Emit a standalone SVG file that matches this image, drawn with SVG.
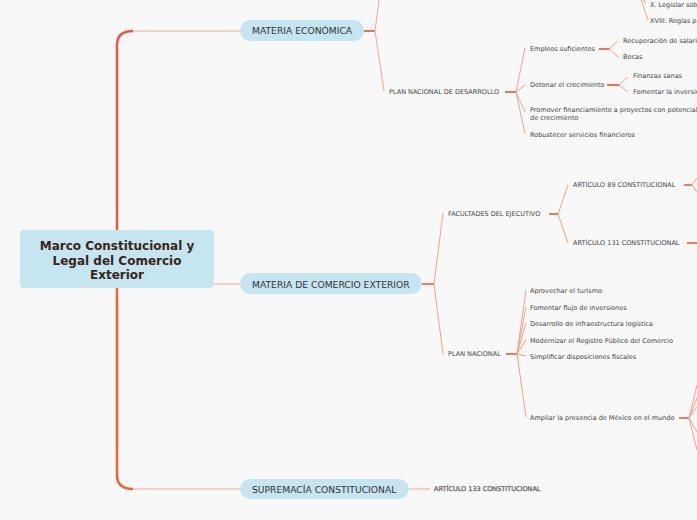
<svg xmlns="http://www.w3.org/2000/svg" width="697" height="520" viewBox="0 0 697 520">
<style>
.bg{fill:#f8f8f8}
.root{fill:#c5e5f0}
.pill{fill:#c5e5f0}
.rt{font-family:"DejaVu Sans",Verdana,sans-serif;font-weight:bold;font-size:12px;fill:#3a2417;text-anchor:middle}
.l1{font-family:"DejaVu Sans",Verdana,sans-serif;font-size:9.2px;fill:#333}
.t{font-family:"DejaVu Sans",Verdana,sans-serif;font-size:6.5px;fill:#444}
.tb{font-family:"DejaVu Sans",Verdana,sans-serif;font-size:6.5px;fill:#555;stroke:#666;stroke-width:0.25}
.trA{fill:none;stroke:#eb5547;stroke-width:2.5}
.trB{fill:none;stroke:#f0632f;stroke-width:2.5}
.l1c{fill:none;stroke:#f9bfb0;stroke-width:1.5}
.br{fill:none;stroke:#f6a397;stroke-width:1}
.bo{fill:none;stroke:#f5a183;stroke-width:1}
.hz{fill:none;stroke:#f0705a;stroke-width:2}
.ho{fill:none;stroke:#f47a55;stroke-width:2}
</style>
<rect class="bg" x="0" y="0" width="697" height="520"/>
<g id="connectors">
<path class="trA" d="M117,230 V45 Q117,31 133,31"/>
<path class="trB" d="M117,288 V475 Q117,489 133,489"/>
<path class="l1c" d="M133,31 H240"/>
<path class="l1c" d="M214,284 H240"/>
<path class="l1c" d="M133,489 H240"/>
<path class="l1c" d="M409,489 H430"/>
<path class="hz" d="M364,31 H375"/>
<path class="br" d="M375,31 L379,0 M375,31 L384,91"/>
<path class="br" d="M637,-12 L646,4 M637,-12 L648,20"/>
<path class="hz" d="M505,92 H516"/>
<path class="br" d="M516,92 L525,48 M516,92 L525,85 M516,92 L525,112 M516,92 L525,134"/>
<path class="hz" d="M599,49 H609"/>
<path class="br" d="M609,49 L618,41 M609,49 L618,57"/>
<path class="hz" d="M607,85 H619"/>
<path class="br" d="M619,85 L628,77 M619,85 L628,92"/>
<path class="ho" d="M422,284 H434"/>
<path class="bo" d="M434,284 L443,213 M434,284 L443,354"/>
<path class="ho" d="M549,214 H558"/>
<path class="bo" d="M558,214 L568,185 M558,214 L568,243"/>
<path class="ho" d="M684,185 H692"/>
<path class="bo" d="M692,185 L697,178 M692,185 L697,192"/>
<path class="ho" d="M687,243 H697"/>
<path class="ho" d="M506,354 H517"/>
<path class="bo" d="M517,354 L526,290 M517,354 L526,307 M517,354 L526,323 M517,354 L526,340 M517,354 L526,356 M517,354 L526,417"/>
<path class="ho" d="M679,418 H689"/>
<path class="bo" d="M689,418 L697,385 M689,418 L697,398 M689,418 L697,407 M689,418 L697,432 M689,418 L697,450"/>
</g>
<g id="root">
<rect class="root" x="20" y="230" width="194" height="58" rx="4"/>
<text class="rt" x="117" y="250">Marco Constitucional y</text>
<text class="rt" x="117" y="264.5">Legal del Comercio</text>
<text class="rt" x="117" y="279">Exterior</text>
</g>
<g id="materia-economica">
<rect class="pill" x="240" y="20" width="124" height="21" rx="10.5"/>
<text class="l1" x="252" y="34">MATERIA ECONÓMICA</text>
</g>
<g id="materia-comercio">
<rect class="pill" x="240" y="273" width="182" height="21" rx="10.5"/>
<text class="l1" x="252" y="287.5">MATERIA DE COMERCIO EXTERIOR</text>
</g>
<g id="supremacia">
<rect class="pill" x="240" y="479" width="169" height="20" rx="10"/>
<text class="l1" x="252" y="492.5">SUPREMACÍA CONSTITUCIONAL</text>
</g>
<g id="x-legislar"><text class="t" x="650" y="6.5">X. Legislar sobre</text></g>
<g id="xviii-reglas"><text class="t" x="650" y="22.5">XVIII. Reglas para</text></g>
<g id="plan-desarrollo"><text class="t" x="389" y="94.3">PLAN NACIONAL DE DESARROLLO</text></g>
<g id="empleos"><text class="t" x="530" y="51.3">Empleos suficientes</text></g>
<g id="recuperacion"><text class="t" x="623" y="43.3">Recuperación de salarios</text></g>
<g id="becas"><text class="t" x="623" y="59.3">Becas</text></g>
<g id="detonar"><text class="t" x="530" y="87.3">Detonar el crecimiento</text></g>
<g id="finanzas"><text class="t" x="633" y="78.3">Finanzas sanas</text></g>
<g id="fomentar-inversion"><text class="t" x="633" y="94.3">Fomentar la inversión</text></g>
<g id="promover"><text class="t" x="530" y="112.3">Promover financiamiento a proyectos con potencial</text><text class="t" x="530" y="120.3">de crecimiento</text></g>
<g id="robustecer"><text class="t" x="530" y="137.3">Robustecer servicios financieros</text></g>
<g id="facultades"><text class="t" x="448" y="216.3">FACULTADES DEL EJECUTIVO</text></g>
<g id="art89"><text class="t" x="573" y="187.3">ARTÍCULO 89 CONSTITUCIONAL</text></g>
<g id="art131"><text class="t" x="573" y="245.3">ARTÍCULO 131 CONSTITUCIONAL</text></g>
<g id="plan-nacional"><text class="t" x="448" y="356.3">PLAN NACIONAL</text></g>
<g id="turismo"><text class="t" x="530" y="293.3">Aprovechar el turismo</text></g>
<g id="flujo"><text class="t" x="530" y="310.3">Fomentar flujo de inversiones</text></g>
<g id="infraestructura"><text class="t" x="530" y="326.3">Desarrollo de infraestructura logística</text></g>
<g id="registro"><text class="t" x="530" y="343.3">Modernizar el Registro Público del Comercio</text></g>
<g id="simplificar"><text class="t" x="530" y="359.3">Simplificar disposiciones fiscales</text></g>
<g id="ampliar"><text class="t" x="530" y="420.3">Ampliar la presencia de México en el mundo</text></g>
<g id="art133"><text class="tb" x="434" y="491.3">ARTÍCULO 133 CONSTITUCIONAL</text></g>
</svg>
